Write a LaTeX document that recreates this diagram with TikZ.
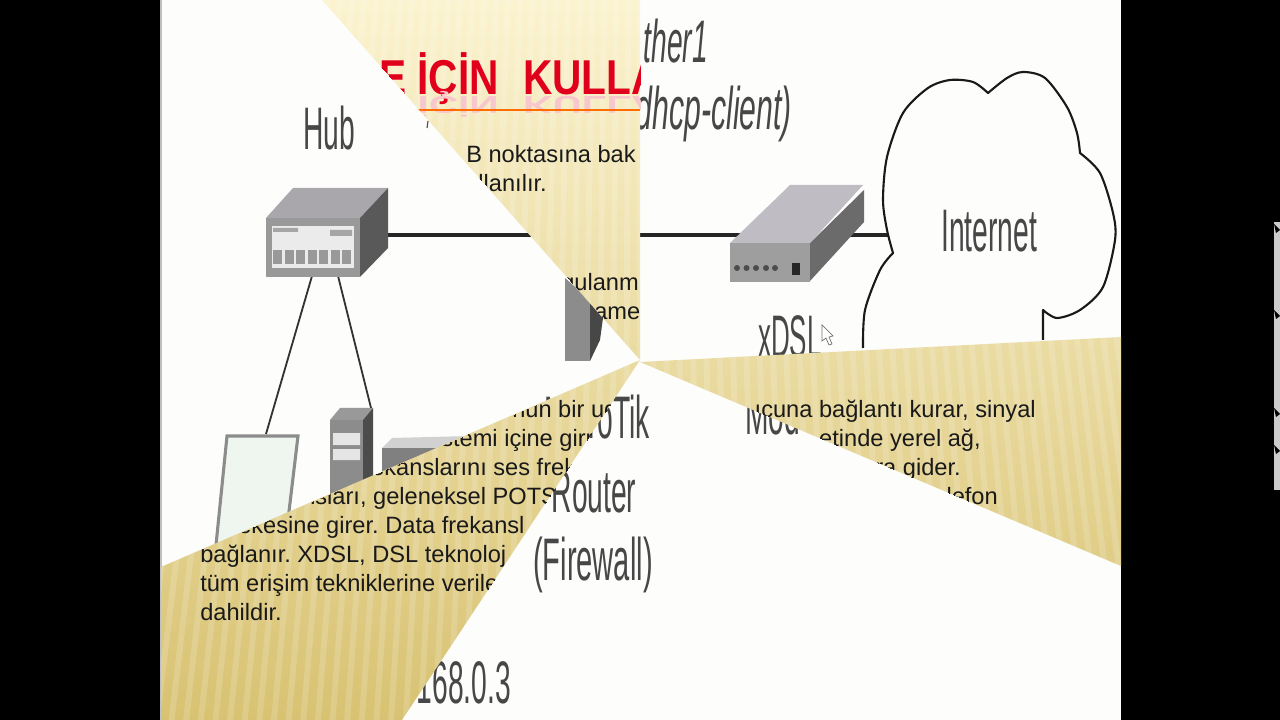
\documentclass[tikz,border=0pt]{standalone}
\usepackage{fontspec}
\setmainfont{Liberation Sans}
\usetikzlibrary{positioning}
\frenchspacing
\definecolor{paper}{HTML}{FDFDFC}
\definecolor{capred}{HTML}{E0001B}
\definecolor{creamtop}{HTML}{FBF3CF}
\definecolor{creambot}{HTML}{D8C272}
\definecolor{hubtop}{HTML}{A9A6AC}
\definecolor{modemtop}{HTML}{C0BCC4}
\definecolor{screen}{HTML}{EFF5EF}
\tikzset{
  bodytext/.style = {inner sep=0pt, text=black!90, font=\fontsize{16.8pt}{20pt}\selectfont},
  photolabel/.style = {inner sep=0pt, text=black!72, transform shape, xscale=.47,
    font=\fontsize{42.7pt}{50pt}\selectfont},
  titletext/.style = {inner sep=0pt, anchor=base west, transform shape,
    font=\bfseries\fontsize{34.8pt}{40pt}\selectfont},
  wire/.style = {draw=black!80, line width=1.3pt},
  uplink/.style = {draw=black!85, line width=2.2pt},
  cloudline/.style = {draw=black!90, line width=1.5pt, line join=round}
}
\begin{document}
\begin{tikzpicture}[x=.025cm, y=-.025cm]
\useasboundingbox (0,0) rectangle (1280,720);
\fill[black] (0,0) rectangle (1280,720);
\fill[paper] (161,0) rectangle (1121,720);
\fill[black!25] (160,0) rectangle (161.5,720);
\fill[black!20] (1274,222) rectangle (1280,490);
\foreach \i in {224,310,408,445}
  \fill[black] (1274,\i) -- (1280,\i+6) -- (1276,\i+9) -- cycle;

% links
\coordinate (hubright) at (386,235);
\coordinate (hubleft) at (312,276);
\coordinate (hubmid) at (338,276);
\coordinate (laptoptop) at (266,434);
\coordinate (servertop) at (371,408);
\coordinate (modemleft) at (742,235);
\coordinate (modemright) at (850,235);
\coordinate (cloudedge) at (888,235);
\draw[uplink] (hubright) -- (modemleft);
\draw[uplink] (modemright) -- (cloudedge);
\draw[wire] (hubleft) -- (laptoptop);
\draw[wire] (hubmid) -- (servertop);

% hub
\fill[hubtop] (266,218) -- (293,188) -- (388,188) -- (360,218) -- cycle;
\fill[black!65] (360,218) -- (388,188) -- (388,248) -- (360,277) -- cycle;
\fill[black!40] (266,218) rectangle (360,277);
\fill[black!8] (272,226) rectangle (354,268);
\fill[black!35] (273,228) rectangle (298,232) (330,230) rectangle (352,236);
\foreach \i in {0,...,6}
  \fill[black!40] ({273+\i*11.5},250) rectangle ({282+\i*11.5},264);

% modem
\fill[modemtop] (730,243) -- (790,185) -- (863,185) -- (810,243) -- cycle;
\fill[black!58] (810,243) -- (864,190) -- (864,222) -- (810,281) -- cycle;
\fill[black!38] (730,243) rectangle (810,282);
\foreach \i in {737,746.5,756,766,775}
  \fill[black!70] (\i,268) circle (3);
\fill[black!85] (792,263) rectangle (800,275);

% server, desk unit, laptop, router
\fill[black!40] (330,420) -- (340,408) -- (373,408) -- (363,420) -- cycle;
\fill[black!70] (363,420) -- (373,408) -- (373,500) -- (363,500) -- cycle;
\fill[black!45] (330,420) rectangle (363,500);
\fill[black!10] (333,433) rectangle (360,445) (333,449) rectangle (360,460);
\fill[black!18] (382,448) -- (392,438) -- (470,436) -- (470,448) -- cycle;
\fill[black!50] (382,448) rectangle (470,520);
\filldraw[fill=screen, draw=black!45, line width=2.2pt]
  (227,436) -- (298,436) -- (285,545) -- (216,545) -- cycle;
\fill[black!45] (565,278) -- (590,300) -- (590,361) -- (565,361) -- cycle;
\fill[black!72] (590,300) -- (603,318) -- (600,340) -- (590,361) -- cycle;

% cloud
\draw[cloudline] plot[smooth] coordinates {(863,348) (865,310) (880,270) (893,253)}
  -- plot[smooth] coordinates {(893,253) (887,230) (883,200) (887,157) (903,113) (928,88) (950,80) (973,82) (988,93)}
  -- plot[smooth] coordinates {(988,93) (1007,78) (1023,72) (1045,78) (1067,107) (1077,133) (1080,153)}
  -- plot[smooth] coordinates {(1080,153) (1100,173) (1113,213) (1115,240) (1103,287) (1080,310) (1057,318) (1043,310)}
  -- (1043,340);

% labels of the photo
\node[photolabel, anchor=base] (hublabel) at (329,150) {Hub};
\node[photolabel, anchor=base] (internetlabel) at (989,252) {Internet};
\node[photolabel, xscale=.92, anchor=base west] (xdsllabel) at (758,358) {xDSL};
\node[photolabel, anchor=base west] (modemlabel) at (745,434) {Mod};
\node[photolabel, anchor=base east] (ether) at (708,63) {\itshape ther1};
\node[photolabel, xscale=1.07, anchor=base east] (dhcp) at (792,130) {\itshape dhcp-client)};
\node[photolabel, anchor=base east] (mikrotik) at (650,438) {MikroTik};
\node[photolabel, anchor=base] (routerlabel) at (594,512) {Router};
\node[photolabel, xscale=1.03, anchor=base] (firewall) at (593,580) {(Firewall)};
\node[photolabel, anchor=base east] (address) at (511,703) {168.0.3};
\draw[black!70, line width=.8pt] (428,121) -- (427,128);
\filldraw[fill=white, draw=black!55, line width=.5pt] (822,325) -- (822,341) -- (826,338)
  -- (829,345) -- (832,344) -- (829,337) -- (833,336) -- cycle;

% slide underneath
\begin{scope}
\clip (322,0) -- (640,360) -- (640,0) -- cycle
  (640,360) -- (161,567) -- (161,720) -- (402,720) -- cycle
  (640,362) -- (1121,337) -- (1121,566) -- cycle;
\shade[top color=creamtop, bottom color=creambot] (161,0) rectangle (1121,720);
\foreach \i in {100,112,...,1180}
  \draw[white, opacity=.16, line width=4.2pt] (\i,0) -- ({640+(\i-640)*1.22},720);
\node[titletext, text=capred, xscale=.83] (title) at (379,95) {E İÇİN\hspace{.6em}KULLA};
\node[titletext, text=capred!22!white, xscale=.83, yscale=-.5] (mirror) at (379,97) {E İÇİN\hspace{.6em}KULLA};
\coordinate (rulestart) at (400,110);
\coordinate (ruleend) at (640,110);
\draw[orange!85!red, line width=.8pt] (rulestart) -- (ruleend);
\node[bodytext, anchor=base west] (topa) at (466,163) {B noktasına bak};
\node[bodytext, anchor=base east] (topb) at (547,192) {llanılır.};
\node[bodytext, anchor=base west] (topc) at (561,291) {gulanm};
\node[bodytext, anchor=base west] (topd) at (594,320) {ame};
\node[bodytext, anchor=base west] (lefta) at (512,418) {nun bir ug};
\node[bodytext, anchor=base west] (leftb) at (441,447) {stemi içine girr};
\node[bodytext, anchor=base west] (leftc) at (371,475) {ekanslarını ses frek};
\node[bodytext, anchor=base west] (leftd) at (302,504) {nsları, geleneksel POTS};
\node[bodytext, anchor=base west] (lefte) at (238,533) {ekesine girer. Data frekansl};
\node[bodytext, anchor=base west] (leftf) at (200,562) {bağlanır. XDSL, DSL teknoloj};
\node[bodytext, anchor=base west] (leftg) at (200,591) {tüm erişim tekniklerine verile};
\node[bodytext, anchor=base west] (lefth) at (200,620) {dahildir.};
\node[bodytext, anchor=base east] (righta) at (1036,418) {ıcuna bağlantı kurar, sinyal};
\node[bodytext, anchor=base east] (rightb) at (981,447) {etinde yerel ağ,};
\node[bodytext, anchor=base east] (rightc) at (961,475) {ra gider.};
\node[bodytext, anchor=base east] (rightd) at (998,504) {lefon};
\end{scope}
\end{tikzpicture}
\end{document}
